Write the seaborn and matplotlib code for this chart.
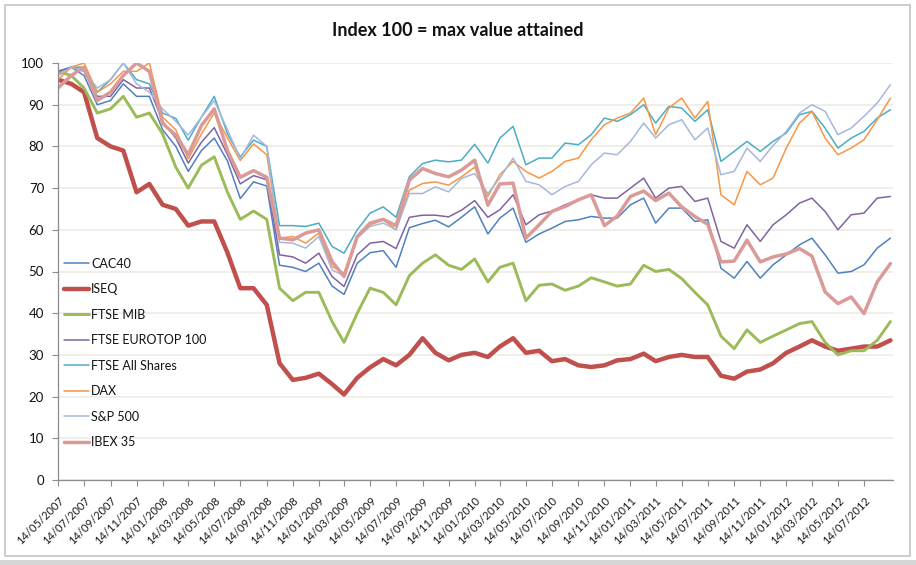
"""Index 100 = max value attained: European / US equity indices, 2007-2012."""

import matplotlib

matplotlib.use('Agg')

import matplotlib.dates as mdates
import matplotlib.pyplot as plt
import pandas as pd
import seaborn as sns
from matplotlib.patches import Rectangle

# monthly readings, 14th of each month, May 2007 .. Sep 2012
dates = pd.date_range('2007-05-14', periods=65, freq=pd.DateOffset(months=1))

cac40 = [98, 99, 97, 90, 91, 95, 92, 92, 84, 80, 74, 79, 82, 76.5, 67.5, 71.5, 70.5,
         51.5, 51, 50, 52, 46.5, 44.5, 52, 54.5, 55, 51, 60.5, 61.5, 62.3, 60.7, 63,
         65.5, 59, 62.8, 65.2, 57, 59, 60.4, 62, 62.4, 63.2, 62.8, 62.8, 66, 67.6, 61.6,
         65.2, 65.2, 62, 62.4, 50.8, 48.4, 52.4, 48.4, 51.6, 54, 56.4, 58, 54, 49.6, 50,
         51.6, 55.6, 58]
iseq = [96, 95, 93, 82, 80, 79, 69, 71, 66, 65, 61, 62, 62, 54.5, 46, 46, 42,
        28, 24, 24.5, 25.5, 23, 20.5, 24.5, 27, 29, 27.5, 30, 34, 30.5, 28.7, 30,
        30.5, 29.5, 32, 34, 30.5, 31, 28.5, 29, 27.5, 27.1, 27.5, 28.7, 29, 30.3, 28.5,
        29.5, 30, 29.5, 29.5, 25, 24.3, 26, 26.5, 28, 30.5, 32, 33.5, 32, 31, 31.5,
        32, 32, 33.5]
ftse_mib = [98, 97, 94, 88, 89, 92, 87, 88, 83, 75, 70, 75.5, 77.5, 69, 62.5, 64.5, 62.5,
            46, 43, 45, 45, 38, 33, 40, 46, 45, 42, 49, 52, 54, 51.5, 50.5,
            53, 47.5, 51, 52, 43, 46.7, 47, 45.5, 46.5, 48.5, 47.5, 46.5, 47, 51.5, 50,
            50.5, 48.3, 45, 42, 34.5, 31.5, 36, 33, 34.5, 36, 37.5, 38, 33, 30, 31,
            31, 33.5, 38]
eurotop = [98, 99, 98, 92, 92, 96, 94, 94, 86, 82, 76, 81, 84.5, 78, 71, 73, 72,
           54, 53.5, 52, 54.4, 48.8, 46.4, 54, 56.8, 57.2, 55.5, 63, 63.5, 63.5, 63.1, 64.7,
           67, 63, 64.8, 68.4, 61.2, 63.6, 64.5, 66, 67.2, 68.4, 67.6, 67.6, 70, 72.4, 67.6,
           70, 70.4, 66.8, 67.6, 57.2, 55.6, 61.2, 57.2, 61.2, 63.6, 66.4, 67.6, 64.4, 60, 63.6,
           64, 67.6, 68]
ftse_all = [97, 99, 99, 93, 96, 100, 96, 95, 88, 86.7, 81.5, 87, 92, 83, 77.5, 81.5, 80,
            61, 61, 60.8, 61.6, 56, 54.4, 60, 64, 65.5, 63, 72.7, 75.9, 76.7, 76.3, 76.7,
            80.5, 76, 82, 84.8, 75.6, 77.2, 77.2, 80.8, 80.4, 82.8, 86.8, 86, 87.6, 90, 85.6,
            89.6, 89.2, 86, 88.8, 76.4, 78.8, 81.2, 78.8, 81.2, 83.2, 87.6, 88.4, 84.4, 79.6, 82,
            83.6, 86.8, 88.8]
dax = [96, 99, 100, 93, 95, 98, 98, 100, 87, 84, 77, 83, 88, 82, 76.6, 80.6, 78,
       58, 58.4, 56.8, 59.2, 51.2, 49.6, 58.4, 61.2, 62.4, 60, 69.5, 71.1, 71.5, 70.7, 72.7,
       75, 68, 73.2, 76.4, 74, 72.4, 74, 76.4, 77.2, 81.6, 85.2, 86.8, 88, 91.6, 82.8,
       89.2, 91.6, 86.8, 90.8, 68.4, 66, 74, 70.8, 72.4, 79.6, 85.6, 88.4, 82, 78, 79.6,
       81.6, 86.4, 91.6]
sp500 = [97, 99, 98, 94, 96, 100, 95, 93, 89, 86, 82.7, 87, 91, 84, 77, 82.7, 80,
         57, 56.8, 55.6, 58.4, 50.4, 49, 58, 60.8, 61.6, 60, 68.7, 68.7, 70.3, 69.1, 72.3,
         73.5, 68.7, 72.4, 77.2, 71.6, 70.8, 68.4, 70.4, 71.6, 75.6, 78.4, 78, 81.2, 85.6, 82,
         85.2, 86.4, 81.6, 84.4, 73.2, 74, 79.6, 76.4, 80.2, 83.6, 88, 90, 88.4, 82.8, 84.4,
         87.2, 90.4, 94.8]
ibex35 = [94, 97, 99, 91, 93, 97, 100, 98, 85.5, 82.7, 78, 85, 89, 79, 72.6, 74.2, 72.6,
          58, 57.6, 59.2, 60, 52.4, 48.8, 58.4, 61.6, 62.5, 61, 71.9, 74.7, 73.5, 72.7, 74.3,
          76.7, 65.9, 71, 71.2, 58, 61.2, 64.4, 65.6, 67.2, 68.4, 61, 63.3, 68, 69.3, 67,
          68.8, 65.5, 63.2, 61.3, 52.3, 52.5, 57.5, 52.3, 53.5, 54.2, 55.5, 53.7, 45.1, 42.3, 43.9,
          39.9, 47.5, 51.9]

series_names = ['CAC40', 'ISEQ', 'FTSE MIB', 'FTSE EUROTOP 100', 'FTSE All Shares',
                'DAX', 'S&P 500', 'IBEX 35']
series_values = [cac40, iseq, ftse_mib, eurotop, ftse_all, dax, sp500, ibex35]
colors = ['#4F81BD', '#C0504D', '#9BBB59', '#8064A2', '#4BACC6', '#F79646',
          '#A5B8DC', '#DA9A98']
widths = [1.1, 3.2, 2.1, 1.1, 1.1, 1.1, 1.1, 2.5]

sns.set_theme(style='white')
plt.rcParams['font.family'] = ['Lato', 'DejaVu Sans']

fig = plt.figure(figsize=(9.16, 5.65), dpi=100)
ax = fig.add_axes([58 / 916, 85 / 565, 835 / 916, 417 / 565])

for name, vals, col, lw in zip(series_names, series_values, colors, widths):
    df = pd.DataFrame({'date': dates, 'value': vals})
    sns.lineplot(data=df, x='date', y='value', color=col, linewidth=lw, label=name, ax=ax)

ax.set_ylim(0, 100)
ax.set_xlim(pd.Timestamp('2007-05-14'), pd.Timestamp('2012-09-20'))
ax.set_yticks(range(0, 101, 10))
ax.yaxis.grid(True, color='#EFEEE7', linewidth=1.4)
ax.xaxis.grid(False)
ax.set_axisbelow(True)

xticks = pd.date_range('2007-05-14', '2012-07-14', freq=pd.DateOffset(months=2))
ax.set_xticks(xticks)
ax.xaxis.set_major_formatter(mdates.DateFormatter('%d/%m/%Y'))
plt.setp(ax.get_xticklabels(), rotation=45, ha='right', rotation_mode='anchor',
         fontsize=8, color='#1A1A1A')
plt.setp(ax.get_yticklabels(), fontsize=9.5, color='#111111')
ax.tick_params(axis='both', which='major', direction='out', length=4, width=0.8,
               color='#8C8C8C', bottom=True, left=True)
ax.tick_params(axis='x', pad=7)
ax.tick_params(axis='y', pad=6)
ax.set_xlabel('')
ax.set_ylabel('')

for side in ['top', 'right']:
    ax.spines[side].set_visible(False)
for side in ['left', 'bottom']:
    ax.spines[side].set_color('#8C8C8C')
    ax.spines[side].set_linewidth(0.9)

leg = ax.legend(loc='upper left', bbox_to_anchor=(0.0, 0.548), frameon=False,
                fontsize=9, handlelength=2.0, handletextpad=0.15, labelspacing=1.08,
                borderpad=0)
for text in leg.get_texts():
    text.set_color('#111111')

fig.text(0.5, 1 - 30 / 565, 'Index 100 = max value attained', ha='center', va='center',
         fontsize=13, fontweight='bold', color='#111111')

# chart area border and the strip below it
fig.patches.append(Rectangle((5 / 916, 1 - 556 / 565), 905 / 916, 551 / 565,
                             transform=fig.transFigure, fill=False,
                             edgecolor='#C4C4C4', linewidth=1.2))
fig.patches.append(Rectangle((0, 0), 1, 5 / 565, transform=fig.transFigure,
                             facecolor='#D6D6D6', edgecolor='none'))

fig.savefig('out.png', dpi=100)
plt.close(fig)
